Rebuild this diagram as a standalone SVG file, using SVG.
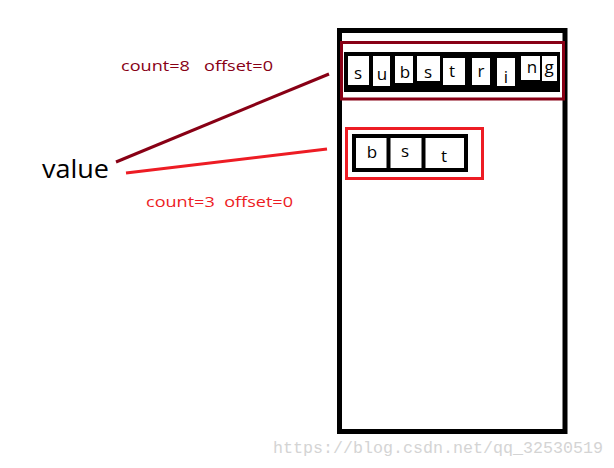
<svg xmlns="http://www.w3.org/2000/svg" width="614" height="468" viewBox="0 0 614 468">
<style>
.lbl{font-family:"Open Sans","Noto Sans","DejaVu Sans",sans-serif}
.cell{fill:#fff}
.ch{font-family:"Open Sans","Noto Sans","DejaVu Sans",sans-serif;font-size:17px;fill:#000;text-anchor:middle}
.ch2{font-family:"Open Sans","Noto Sans","DejaVu Sans",sans-serif;font-size:17px;fill:#000;text-anchor:middle}
</style>
<rect width="614" height="468" fill="#fff"/>
<g id="memory">
<rect x="339.5" y="30.5" width="225.5" height="401" fill="none" stroke="#000" stroke-width="5"/>
</g>
<g id="substring-node">
<rect x="341.5" y="42.5" width="222" height="56.5" fill="none" stroke="#880015" stroke-width="3"/>
<rect x="344" y="52" width="216" height="40" fill="#000"/>
<rect class="cell" x="348" y="56" width="21" height="29"/>
<rect class="cell" x="373" y="56" width="17" height="30"/>
<rect class="cell" x="395" y="56" width="18" height="27"/>
<rect class="cell" x="417" y="56" width="23" height="25"/>
<rect class="cell" x="443" y="58" width="22" height="27"/>
<rect class="cell" x="472" y="58" width="18" height="27"/>
<rect class="cell" x="497" y="58" width="18" height="28"/>
<rect class="cell" x="521" y="56" width="19" height="24"/>
<rect class="cell" x="542" y="56" width="15" height="25"/>
<text class="ch" x="358" y="79">s</text>
<text class="ch" x="382" y="80">u</text>
<text class="ch" x="405" y="78">b</text>
<text class="ch" x="428" y="78">s</text>
<text class="ch" x="452" y="77">t</text>
<text class="ch" x="481" y="77">r</text>
<text class="ch" x="506" y="83">i</text>
<text class="ch" x="532" y="73">n</text>
<text class="ch" x="549" y="73">g</text>
</g>
<g id="bst-node">
<rect x="346.5" y="128.5" width="136" height="50" fill="none" stroke="#ed1c24" stroke-width="3"/>
<rect x="354" y="136" width="112" height="34" fill="#fff" stroke="#000" stroke-width="4"/>
<line x1="388.5" y1="136" x2="388.5" y2="170" stroke="#000" stroke-width="4"/>
<line x1="423.5" y1="136" x2="423.5" y2="170" stroke="#000" stroke-width="4"/>
<text class="ch2" x="372" y="158">b</text>
<text class="ch2" x="405" y="157">s</text>
<text class="ch2" x="444" y="162">t</text>
</g>
<g id="value-node">
<text class="lbl" x="42" y="178" font-size="26" fill="#000" textLength="67" lengthAdjust="spacingAndGlyphs">value</text>
</g>
<g id="connectors">
<line x1="116" y1="162" x2="329" y2="74" stroke="#880015" stroke-width="3"/>
<line x1="126" y1="173" x2="327" y2="149" stroke="#ed1c24" stroke-width="3"/>
</g>
<g id="labels">
<text class="lbl" x="121" y="71" font-size="15" fill="#880015" textLength="152" lengthAdjust="spacingAndGlyphs" xml:space="preserve">count=8   offset=0</text>
<text class="lbl" x="146" y="207" font-size="15" fill="#ed1c24" textLength="147" lengthAdjust="spacingAndGlyphs" xml:space="preserve">count=3  offset=0</text>
</g>
<text x="273" y="453" font-family="'Liberation Mono','DejaVu Sans Mono',monospace" font-size="17" fill="#d4d4d4" textLength="330" lengthAdjust="spacingAndGlyphs">https://blog.csdn.net/qq_32530519</text>
</svg>
